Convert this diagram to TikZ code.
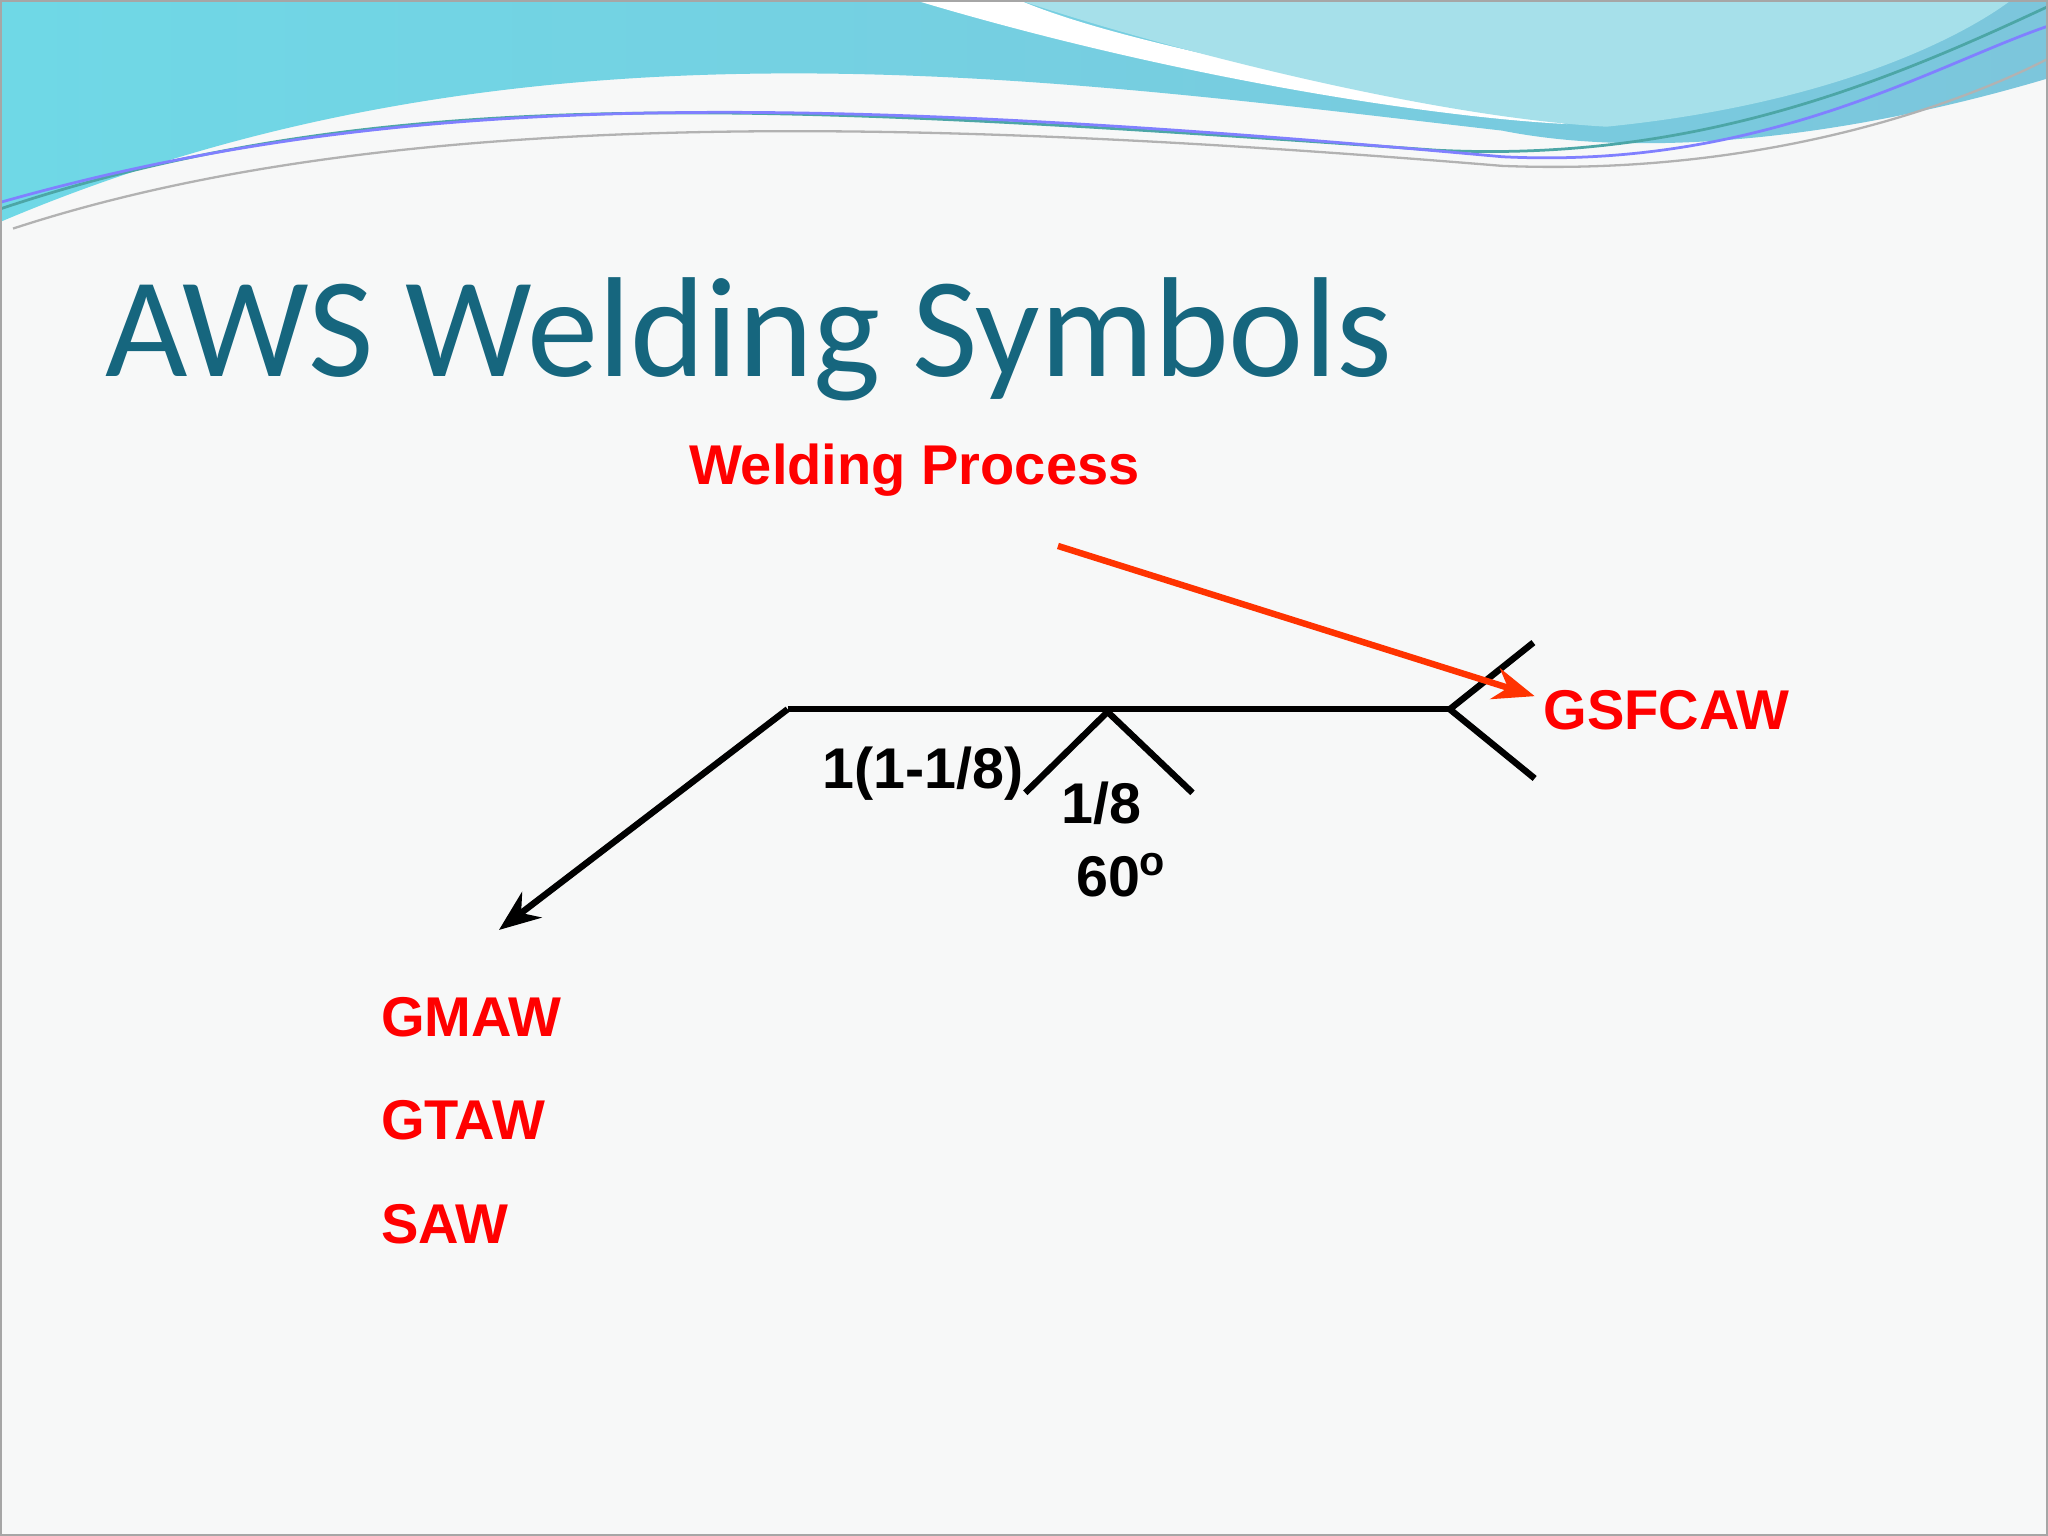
\documentclass[tikz,border=0pt]{standalone}
\usepackage{fontspec}
\setmainfont{Liberation Sans}
\newfontfamily\titlefont{Carlito}
\usetikzlibrary{arrows.meta}
\definecolor{ttl}{HTML}{16667E}
\definecolor{wred}{HTML}{FF0000}
\definecolor{bgc}{HTML}{F7F8F8}
\definecolor{bnA}{HTML}{7CC6DC}
\definecolor{bnB}{HTML}{6FD8E6}
\definecolor{bnC}{HTML}{A6E0EA}
\definecolor{parr}{HTML}{FF3300}
\tikzset{
  lbl/.style={font=\bfseries\fontsize{12.5}{14}\selectfont, text=black},
  rlbl/.style={font=\bfseries\fontsize{12.2}{14}\selectfont, text=wred, inner sep=0},
  sym/.style={line width=1.4pt, black},
}
\begin{document}
\begin{tikzpicture}[x=0.01cm,y=-0.01cm]
\useasboundingbox (0,0) rectangle (1568,1176);
\fill[bgc] (0,0) rectangle (1568,1176);
% banner
\shade[left color=bnB, right color=bnA] (0,0) -- (1568,0) -- (1568,60) .. controls (1400,110) and (1250,120) .. (1150,100) .. controls (800,60) and (400,0) .. (0,170) -- cycle;
\fill[white] (700,0) .. controls (900,60) and (1100,90) .. (1200,95) .. controls (1000,60) and (850,30) .. (780,0) -- cycle;
\fill[bnC] (780,0) .. controls (900,40) and (1100,90) .. (1230,97) .. controls (1400,80) and (1500,30) .. (1540,0) -- cycle;
\draw[teal!70, line width=0.6pt] (0,160) .. controls (300,60) and (600,80) .. (1100,115) .. controls (1300,125) and (1450,60) .. (1568,5);
\draw[blue!50, line width=0.6pt] (0,155) .. controls (300,70) and (600,70) .. (1150,120) .. controls (1350,130) and (1480,50) .. (1568,20);
\draw[gray!60, line width=0.5pt] (10,175) .. controls (300,80) and (700,90) .. (1150,127) .. controls (1350,135) and (1500,80) .. (1568,45);
\draw[gray!70, line width=0.8pt] (0.5,0.5) rectangle (1567.5,1175.5);
% title
\node[anchor=base west, inner sep=0, text=ttl, font=\titlefont\fontsize{31}{34}\selectfont] (title) at (80,288) {AWS Welding Symbols};
% texts
\node[rlbl, anchor=center] (wp) at (700,360) {Welding Process};
\node[rlbl, anchor=west] (gsf) at (1181,544) {GSFCAW};
\node[rlbl, anchor=west] (gmaw) at (291,779) {GMAW};
\node[rlbl, anchor=west] (gtaw) at (291,858) {GTAW};
\node[rlbl, anchor=west] (saw) at (291,937) {SAW};
\node[lbl] (dim) at (707,592) {1(1-1/8)};
\node[lbl] (gap) at (843,615) {1/8};
\node[lbl] (ang) at (858,670) {60\raisebox{0.7ex}{\fontsize{9}{9}\selectfont o}};
% symbol
\coordinate (rl) at (603,543);
\coordinate (rr) at (1110,543);
\coordinate (vt) at (848,545);
\coordinate (vl) at (785,607);
\coordinate (vr) at (913,607);
\coordinate (tu) at (1174,492);
\coordinate (td) at (1175,596);
\coordinate (ah) at (382,712);
\coordinate (ps) at (810,418);
\coordinate (pe) at (1175,533);
\draw[sym] (rl) -- (rr);
\draw[sym, -{Stealth[length=9pt,width=7pt]}] (rl) -- (ah);
\draw[sym] (vl) -- (vt) -- (vr);
\draw[sym] (tu) -- (rr) -- (td);
\draw[line width=1.4pt, color=parr, -{Stealth[length=9pt,width=7pt]}] (ps) -- (pe);
\end{tikzpicture}
\end{document}
